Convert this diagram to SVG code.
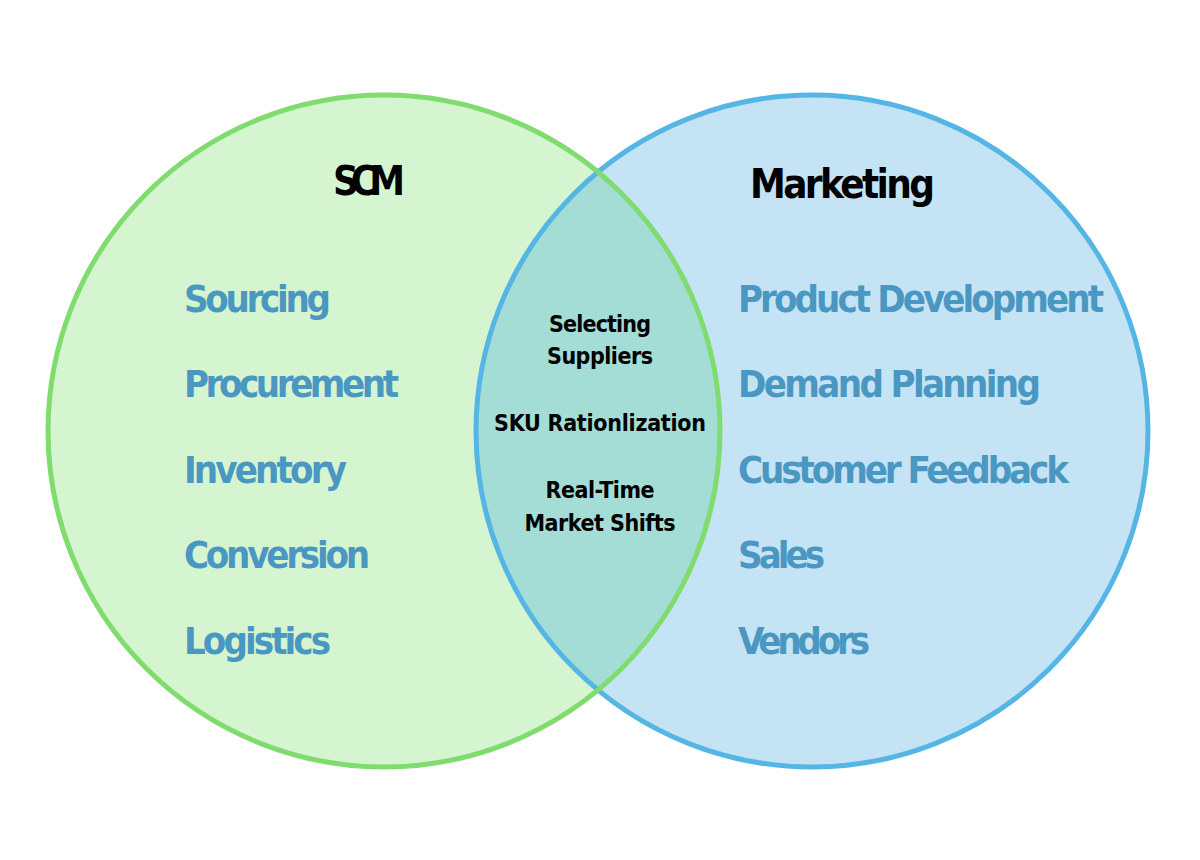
<svg xmlns="http://www.w3.org/2000/svg" width="1200" height="860" viewBox="0 0 1200 860">
<style>
.t{font-family:"DejaVu Sans Condensed","DejaVu Sans",sans-serif;font-weight:bold;}
.b{fill:#4a97c2;font-size:38px;letter-spacing:1px}
.h{fill:#000;font-size:40px}
.c{fill:#000;font-size:23px;text-anchor:middle}
</style>
<defs><clipPath id="cl"><circle cx="384" cy="431" r="336"/></clipPath></defs>
<rect width="1200" height="860" fill="#fff"/>
<g id="scm"><circle cx="384" cy="431" r="336" fill="#d4f5cf"/></g>
<g id="marketing"><circle cx="812" cy="431" r="336" fill="#c4e4f6"/>
<circle cx="812" cy="431" r="336" fill="#a3ddd6" clip-path="url(#cl)"/>
<circle cx="812" cy="431" r="336" fill="none" stroke="#55b5e5" stroke-width="5"/></g>
<circle cx="384" cy="431" r="336" fill="none" stroke="#80dc6e" stroke-width="5"/>
<circle cx="812" cy="431" r="336" fill="none" stroke="#55b5e5" stroke-width="5" clip-path="url(#cl)" opacity="0"/>
<g id="labels" class="t">
<text class="h" x="333" y="195" textLength="72">SCM</text>
<text class="h" x="750" y="198" textLength="185">Marketing</text>
<text class="b" x="184" y="312" textLength="148">Sourcing</text>
<text class="b" x="184" y="397" textLength="216">Procurement</text>
<text class="b" x="184" y="483" textLength="164">Inventory</text>
<text class="b" x="184" y="568" textLength="187">Conversion</text>
<text class="b" x="184" y="654" textLength="148">Logistics</text>
<text class="b" x="738" y="312" textLength="367">Product Development</text>
<text class="b" x="738" y="397" textLength="304">Demand Planning</text>
<text class="b" x="738" y="483" textLength="332">Customer Feedback</text>
<text class="b" x="738" y="568" textLength="88">Sales</text>
<text class="b" x="738" y="654" textLength="133">Vendors</text>
<text class="c" x="600" y="332" textLength="102">Selecting</text>
<text class="c" x="600" y="364" textLength="106">Suppliers</text>
<text class="c" x="600" y="431" textLength="212">SKU Rationlization</text>
<text class="c" x="600" y="498" textLength="109">Real-Time</text>
<text class="c" x="600" y="531" textLength="151">Market Shifts</text>
</g>
</svg>
